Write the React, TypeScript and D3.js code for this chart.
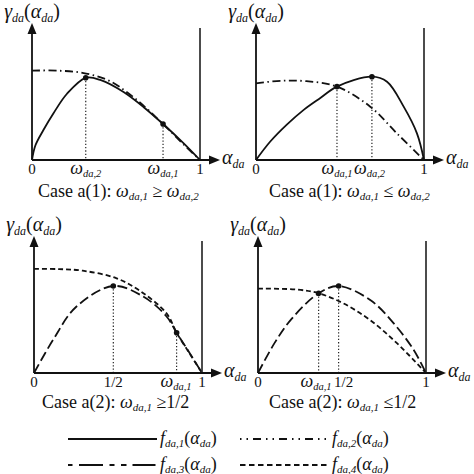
import React from 'react';
import * as d3 from 'd3';

type Pt = [number, number];

// ---------- data (unit coordinates: alpha in [0,1], gamma relative) ----------
// Case a(1): w1 >= w2
const a1GeF1: Pt[] = [[0, 0], [0.02, 0.11], [0.068, 0.227], [0.128, 0.354], [0.207, 0.5], [0.32, 0.623], [0.41, 0.605], [0.545, 0.515], [0.665, 0.4], [0.78, 0.273], [0.9, 0.13], [1, 0]];
const a1GeF2: Pt[] = [[0, 0.677], [0.15, 0.677], [0.3, 0.66], [0.45, 0.606], [0.6, 0.48], [0.78, 0.273], [0.9, 0.12], [1, 0]];
// Case a(1): w1 <= w2
const a1LeF1: Pt[] = [[0, 0], [0.085, 0.14], [0.185, 0.27], [0.284, 0.38], [0.383, 0.47], [0.482, 0.556], [0.69, 0.631], [0.78, 0.593], [0.879, 0.404], [0.958, 0.202], [1, 0]];
const a1LeF2: Pt[] = [[0, 0.581], [0.15, 0.6], [0.3, 0.597], [0.482, 0.556], [0.68, 0.404], [0.84, 0.2], [1, 0]];
// Case a(2): w1 >= 1/2
const a2GeF3: Pt[] = [[0, 0], [0.113, 0.25], [0.25, 0.5], [0.472, 0.659], [0.649, 0.58], [0.788, 0.43], [0.849, 0.305], [0.927, 0.15], [1, 0]];
const a2GeF4: Pt[] = [[0, 0.789], [0.15, 0.787], [0.29, 0.775], [0.492, 0.717], [0.651, 0.604], [0.79, 0.45], [0.849, 0.305], [0.93, 0.14], [1, 0]];
// Case a(2): w1 <= 1/2
const a2LeF3: Pt[] = [[0, 0], [0.1, 0.23], [0.2, 0.41], [0.361, 0.604], [0.48, 0.659], [0.668, 0.553], [0.808, 0.376], [0.927, 0.174], [1, 0]];
const a2LeF4: Pt[] = [[0, 0.639], [0.232, 0.632], [0.361, 0.604], [0.51, 0.526], [0.668, 0.4], [0.827, 0.226], [1, 0]];

// marked points [alpha, gamma]
const a1GeMarks: Pt[] = [[0.32, 0.623], [0.78, 0.273]];
const a1LeMarks: Pt[] = [[0.482, 0.556], [0.69, 0.631]];
const a2GeMarks: Pt[] = [[0.472, 0.659], [0.849, 0.305]];
const a2LeMarks: Pt[] = [[0.361, 0.604], [0.48, 0.659]];

type Part = { t: string; sub?: boolean; it?: boolean };
const W1: Part[] = [{ t: 'ω', it: true }, { t: 'da,1', sub: true, it: true }];
const W2: Part[] = [{ t: 'ω', it: true }, { t: 'da,2', sub: true, it: true }];
const HALF: Part[] = [{ t: '1/2' }];

type Tick = { at: number; parts: Part[] };
const a1GeTicks: Tick[] = [{ at: 0, parts: [{ t: '0' }] }, { at: 0.32, parts: W2 }, { at: 0.78, parts: W1 }, { at: 1, parts: [{ t: '1' }] }];
const a1LeTicks: Tick[] = [{ at: 0, parts: [{ t: '0' }] }, { at: 0.482, parts: W1 }, { at: 0.676, parts: W2 }, { at: 1, parts: [{ t: '1' }] }];
const a2GeTicks: Tick[] = [{ at: 0, parts: [{ t: '0' }] }, { at: 0.472, parts: HALF }, { at: 0.845, parts: W1 }, { at: 1, parts: [{ t: '1' }] }];
const a2LeTicks: Tick[] = [{ at: 0, parts: [{ t: '0' }] }, { at: 0.345, parts: W1 }, { at: 0.51, parts: HALF }, { at: 1, parts: [{ t: '1' }] }];

const capA1Ge: Part[] = [{ t: 'Case a(1): ' }, ...W1, { t: ' ≥ ' }, ...W2];
const capA1Le: Part[] = [{ t: 'Case a(1): ' }, ...W1, { t: ' ≤ ' }, ...W2];
const capA2Ge: Part[] = [{ t: 'Case a(2): ' }, ...W1, { t: ' ≥1/2' }];
const capA2Le: Part[] = [{ t: 'Case a(2): ' }, ...W1, { t: ' ≤1/2' }];

const legendLabels: Part[][] = [
  [{ t: 'f', it: true }, { t: 'da,1', sub: true, it: true }, { t: '(' }, { t: 'α', it: true }, { t: 'da', sub: true, it: true }, { t: ')' }],
  [{ t: 'f', it: true }, { t: 'da,2', sub: true, it: true }, { t: '(' }, { t: 'α', it: true }, { t: 'da', sub: true, it: true }, { t: ')' }],
  [{ t: 'f', it: true }, { t: 'da,3', sub: true, it: true }, { t: '(' }, { t: 'α', it: true }, { t: 'da', sub: true, it: true }, { t: ')' }],
  [{ t: 'f', it: true }, { t: 'da,4', sub: true, it: true }, { t: '(' }, { t: 'α', it: true }, { t: 'da', sub: true, it: true }, { t: ')' }],
];

const Y_LABEL: Part[] = [{ t: 'γ', it: true }, { t: 'da', sub: true, it: true }, { t: '(' }, { t: 'α', it: true }, { t: 'da', sub: true, it: true }, { t: ')' }];
const X_LABEL: Part[] = [{ t: 'α', it: true }, { t: 'da', sub: true, it: true }];

// ---------- styles ----------
const FONT = 'Liberation Serif';
const INK = '#111';
const DASH = {
  f1: undefined as string | undefined,
  f2: '8,3.5,1.5,3.5',
  f3: '10,4',
  f4: '5,3',
};
const LEGEND_DASH = {
  f1: undefined as string | undefined,
  f2: '1.5,5,1.5,5,8,5',
  f3: '4.5,6.5,24,6.5,5,6.5,5.5,6,23,10',
  f4: '5.5,3.5',
};

function MathText({ x, y, parts, size = 18, subSize = 11, anchor = 'start', shiftK = 0.2 }: { x: number; y: number; parts: Part[]; size?: number; subSize?: number; anchor?: string; shiftK?: number }) {
  const elems: React.ReactNode[] = [];
  let shifted = false;
  const shift = Math.round(size * shiftK);
  parts.forEach((p, i) => {
    let dy: number | undefined;
    if (p.sub && !shifted) { dy = shift; shifted = true; }
    else if (!p.sub && shifted) { dy = -shift; shifted = false; }
    elems.push(
      <tspan key={i} dy={dy} fontFamily={FONT} fontSize={p.sub ? subSize : size} fontStyle={p.it ? 'italic' : 'normal'}>{p.t}</tspan>
    );
  });
  return (
    <text x={x} y={y} textAnchor={anchor as any} fill={INK} fontFamily={FONT} fontSize={size}>{elems}</text>
  );
}

type Curve = { data: Pt[]; dash?: string };

function Panel({ x0, y0, curves, marks, ticks, caption, capX, capY }: { x0: number; y0: number; curves: Curve[]; marks: Pt[]; ticks: Tick[]; caption: Part[]; capX: number; capY: number }) {
  const x = d3.scaleLinear().domain([0, 1]).range([x0, x0 + 168]);
  const y = d3.scaleLinear().domain([0, 1]).range([y0, y0 - 132]);
  const line = d3.line<Pt>().x(d => x(d[0])).y(d => y(d[1])).curve(d3.curveCatmullRom.alpha(0.5));
  const ax0 = x(0);
  const ay0 = y(0);
  return (
    <g>
      <line x1={ax0} y1={ay0} x2={ax0} y2={ay0 - 128} stroke={INK} strokeWidth={1.8} />
      <polygon points={`${ax0},${ay0 - 137} ${ax0 - 4.5},${ay0 - 126} ${ax0 + 4.5},${ay0 - 126}`} fill={INK} />
      <line x1={ax0} y1={ay0} x2={ax0 + 178} y2={ay0} stroke={INK} strokeWidth={1.8} />
      <polygon points={`${ax0 + 188},${ay0} ${ax0 + 177},${ay0 - 4.5} ${ax0 + 177},${ay0 + 4.5}`} fill={INK} />
      <line x1={x(1)} y1={ay0} x2={x(1)} y2={y(1)} stroke={INK} strokeWidth={1.5} />
      {marks.map((m, i) => (
        <line key={'d' + i} x1={x(m[0])} y1={y(m[1])} x2={x(m[0])} y2={ay0} stroke={INK} strokeWidth={1.1} strokeDasharray="1.3,2" />
      ))}
      {curves.map((c, i) => (
        <path key={'c' + i} d={line(c.data) || ''} fill="none" stroke={INK} strokeWidth={1.8} strokeDasharray={c.dash} />
      ))}
      {marks.map((m, i) => (
        <circle key={'m' + i} cx={x(m[0])} cy={y(m[1])} r={2.8} fill={INK} />
      ))}
      {ticks.map((t, i) => (
        <MathText key={'t' + i} x={x(t.at)} y={ay0 + 14} parts={t.parts} size={t.parts.length > 1 ? 18 : 15} subSize={10.5} anchor="middle" shiftK={0.18} />
      ))}
      <MathText x={ax0} y={ay0 - 142} parts={Y_LABEL} size={20} subSize={12} anchor="middle" />
      <MathText x={ax0 + 190} y={ay0 + 4} parts={X_LABEL} size={20} subSize={12} />
      <MathText x={capX} y={capY} parts={caption} size={18} subSize={11} shiftK={0.18} />
    </g>
  );
}

export default function App() {
  const legendRows = [
    { y: 439, items: [{ x: 68, dash: LEGEND_DASH.f1, label: legendLabels[0] }, { x: 240, dash: LEGEND_DASH.f2, label: legendLabels[1] }] },
    { y: 465, items: [{ x: 68, dash: LEGEND_DASH.f3, label: legendLabels[2] }, { x: 240, dash: LEGEND_DASH.f4, label: legendLabels[3] }] },
  ];
  return (
    <svg width={474} height={474} viewBox="0 0 474 474" style={{ position: 'absolute', left: 0, top: 0, background: '#fff' }}>
      <rect x={0} y={0} width={474} height={474} fill="#fff" />
      <Panel x0={32} y0={160} curves={[{ data: a1GeF2, dash: DASH.f2 }, { data: a1GeF1, dash: DASH.f1 }]} marks={a1GeMarks} ticks={a1GeTicks} caption={capA1Ge} capX={38} capY={197} />
      <Panel x0={256} y0={160} curves={[{ data: a1LeF2, dash: DASH.f2 }, { data: a1LeF1, dash: DASH.f1 }]} marks={a1LeMarks} ticks={a1LeTicks} caption={capA1Le} capX={269} capY={197} />
      <Panel x0={34} y0={373} curves={[{ data: a2GeF4, dash: DASH.f4 }, { data: a2GeF3, dash: DASH.f3 }]} marks={a2GeMarks} ticks={a2GeTicks} caption={capA2Ge} capX={42} capY={408} />
      <Panel x0={258} y0={373} curves={[{ data: a2LeF4, dash: DASH.f4 }, { data: a2LeF3, dash: DASH.f3 }]} marks={a2LeMarks} ticks={a2LeTicks} caption={capA2Le} capX={269} capY={408} />
      {legendRows.map((row, ri) => (
        <g key={ri}>
          {row.items.map((it, ii) => (
            <g key={ii}>
              <line x1={it.x} y1={row.y} x2={it.x + 89} y2={row.y} stroke={INK} strokeWidth={1.8} strokeDasharray={it.dash} />
              <MathText x={it.x + 92} y={row.y + 5} parts={it.label} size={18} subSize={11} shiftK={0.16} />
            </g>
          ))}
        </g>
      ))}
    </svg>
  );
}
